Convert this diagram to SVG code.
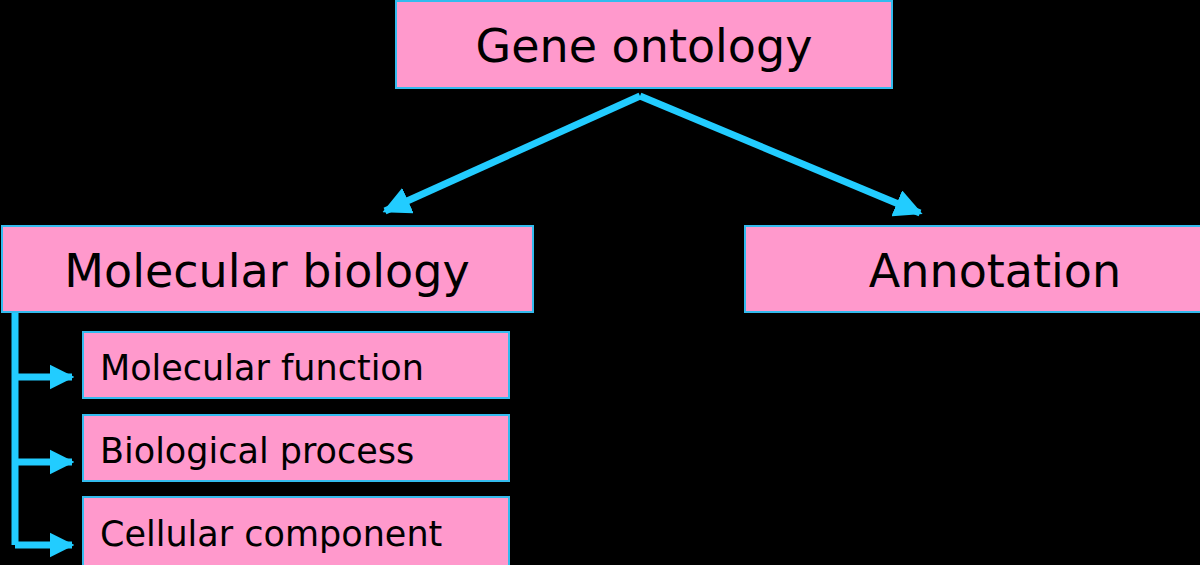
<svg xmlns="http://www.w3.org/2000/svg" width="1200" height="565" viewBox="0 0 1200 565">
<style>
.box{fill:#ff99cc;stroke:#33bbee;stroke-width:2}
.t{font-family:"Comic Sans MS","DejaVu Sans",sans-serif;fill:#000}
.c{stroke:#22ccff;fill:none;stroke-width:7}
</style>
<defs>
<marker id="a" viewBox="0 0 10 10" refX="9" refY="5" markerWidth="4" markerHeight="4" markerUnits="strokeWidth" orient="auto"><path d="M0,0L10,5L0,10Z" fill="#22ccff"/></marker>
<marker id="b" viewBox="0 0 10 10" refX="9" refY="5" markerWidth="3.5" markerHeight="4" markerUnits="strokeWidth" orient="auto"><path d="M0,0L10,5L0,10Z" fill="#22ccff"/></marker>
</defs>
<rect width="1200" height="565" fill="#000"/>
<g id="connectors">
<path class="c" d="M640,96L385,211" marker-end="url(#a)"/>
<path class="c" d="M640,96L920,213" marker-end="url(#a)"/>
<path class="c" d="M15,311V545" stroke-width="6"/>
<path class="c" d="M15,377H72" stroke-width="6" marker-end="url(#b)"/>
<path class="c" d="M15,462H72" stroke-width="6" marker-end="url(#b)"/>
<path class="c" d="M15,545H72" stroke-width="6" marker-end="url(#b)"/>
</g>
<g id="gene"><rect class="box" x="396" y="1" width="496" height="87"/><text class="t" x="644" y="62" font-size="46" text-anchor="middle">Gene ontology</text></g>
<g id="molbio"><rect class="box" x="2" y="226" width="531" height="86"/><text class="t" x="267" y="287" font-size="46" text-anchor="middle">Molecular biology</text></g>
<g id="annot"><rect class="box" x="745" y="226" width="460" height="86"/><text class="t" x="995" y="287" font-size="46" text-anchor="middle">Annotation</text></g>
<g id="mf"><rect class="box" x="83" y="332" width="426" height="66"/><text class="t" x="100" y="380" font-size="35">Molecular function</text></g>
<g id="bp"><rect class="box" x="83" y="415" width="426" height="66"/><text class="t" x="100" y="463" font-size="35">Biological process</text></g>
<g id="cc"><rect class="box" x="83" y="497" width="426" height="70"/><text class="t" x="100" y="546" font-size="35">Cellular component</text></g>
</svg>
